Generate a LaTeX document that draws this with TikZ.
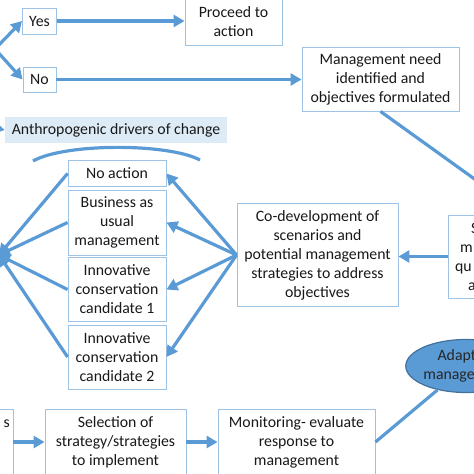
\documentclass[tikz,border=0pt]{standalone}
\usepackage{fontspec}
\setmainfont{Carlito}
\usetikzlibrary{arrows.meta,shapes.geometric}

\definecolor{flowblue}{RGB}{91,155,213}
\definecolor{edgeblue}{RGB}{157,195,230}
\definecolor{paleblue}{RGB}{221,235,247}
\definecolor{darkblue}{RGB}{65,113,156}

\begin{document}
\begin{tikzpicture}[x=1pt,y=-1pt,
    every node/.style={font=\fontsize{15.8}{19}\selectfont,text=black!90,align=center,inner sep=0pt},
    box/.style={draw=edgeblue,line width=0.9pt,fill=white},
    flow/.style={draw=flowblue,line width=3.2pt,-{Triangle[length=11pt,width=12pt]}},
    link/.style={draw=flowblue,line width=3.2pt}]
    \useasboundingbox (0,0) rectangle (474,474);
    \clip (0,0) rectangle (474,474);

    % top branch
    \coordinate (branch) at (-5,49);
    \node[box,minimum width=34pt,minimum height=26pt] (yes) at (39.5,21) {Yes};
    \node[box,minimum width=33pt,minimum height=25pt] (no) at (39.5,79.5) {No};
    \node[box,minimum width=97pt,minimum height=46pt] (proceed) at (233.5,22) {Proceed to\\action};
    \node[box,minimum width=157pt,minimum height=64pt] (need) at (380.5,79) {Management need\\identified and\\objectives formulated};

    \draw[flow] (branch) -- (yes.west);
    \draw[flow] (branch) -- (no.west);
    \draw[flow] (yes.east) -- (yes.east -| proceed.west);
    \draw[flow] (no.east) -- (no.east -| need.west);

    % drivers and options
    \node[fill=paleblue,minimum width=222pt,minimum height=26pt] (drivers) at (116,130) {Anthropogenic drivers of change};
    \coordinate (drvin) at (-25,124);
    \draw[flow] (drvin) -- (drivers.west);
    \coordinate (arcL) at (33,161);
    \coordinate (arcR) at (200,160);
    \draw[link] (arcL) .. controls (65,143) and (168,143) .. (arcR);

    \node[box,minimum width=98pt,minimum height=26pt] (noact) at (117,173.5) {No action};
    \node[box,minimum width=98pt,minimum height=65pt] (bau) at (117,222.5) {Business as\\usual\\management};
    \node[box,minimum width=98pt,minimum height=64pt] (icc1) at (117,289.5) {Innovative\\conservation\\candidate 1};
    \node[box,minimum width=98pt,minimum height=64pt] (icc2) at (117,357) {Innovative\\conservation\\candidate 2};
    \node[box,minimum width=161pt,minimum height=103pt] (codev) at (317.5,255) {Co-development of\\scenarios and\\potential management\\strategies to address\\objectives};

    % right box, mostly out of view
    \node[box,minimum width=152pt,minimum height=83pt] (model) at (524,256.5) {};
    \node[anchor=west,align=left] (modeltxt) at (455,256.5) {\hspace{16pt}S\\\hspace{5pt}m\\qu\\\hspace{13pt}a};

    \draw[flow] (need.south) -- (model.north);
    \draw[flow] (model.west) -- (model.west -| codev.east);

    \coordinate (outleft) at (-1,255);
    \foreach \opt in {noact,bau,icc1,icc2}{
        \draw[flow] (\opt.west) -- (outleft);
        \draw[flow] (codev.west) -- (\opt.east);
    }

    % bottom row
    \node[box,minimum width=113pt,minimum height=66pt] (prev) at (-43.5,442) {};
    \node[anchor=base east] (prevtxt) at (10,427) {s};
    \node[box,minimum width=141pt,minimum height=66pt] (select) at (115.5,442) {Selection of\\strategy/strategies\\to implement};
    \node[box,minimum width=157pt,minimum height=66pt] (monitor) at (296.5,442) {Monitoring- evaluate\\response to\\management};
    \node[ellipse,draw=darkblue,line width=1.2pt,fill=flowblue,minimum width=116pt,minimum height=53pt,text=black!85] (adapt) at (466,366) {Adaptive\\management};

    \draw[flow] (prev.east) -- (select.west);
    \draw[flow] (select.east) -- (monitor.west);
    \draw[link] (monitor.east) -- (adapt);
\end{tikzpicture}
\end{document}
